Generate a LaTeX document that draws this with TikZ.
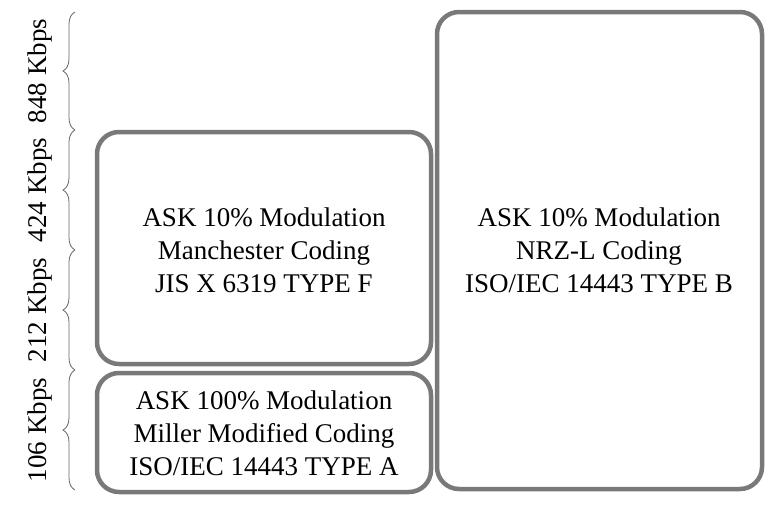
\documentclass[tikz,border=0pt]{standalone}
\usepackage{fontspec}
\setmainfont{Liberation Serif}
\usetikzlibrary{decorations.pathreplacing}
\begin{document}
\begin{tikzpicture}[x=1pt,y=-1pt,
  box/.style={draw=gray!95!black,line width=4.5pt,rounded corners=22pt,align=center,font=\fontsize{27}{33}\selectfont},
  br/.style={draw=gray!80!black,line width=0.8pt,decorate,decoration={brace,amplitude=12pt}},
  lab/.style={rotate=90,font=\fontsize{27}{33}\selectfont}]
\useasboundingbox (0,0) rectangle (773,509);
\foreach \i/\a/\b/\t in {1/12/130/848,2/130/250/424,3/250/370/212,4/370/490/106}{
  \coordinate (t\i) at (75,\a); \coordinate (b\i) at (75,\b);
  \draw[br] (b\i) -- (t\i);
  \node[lab] (l\i) at (40,{(\a+\b)/2}) {\t\ Kbps};
}
\draw[box] (97,132) rectangle (431,364);
\node[align=center,font=\fontsize{27}{33}\selectfont] (f) at (264,250) {ASK 10\% Modulation\\Manchester Coding\\JIS X 6319 TYPE F};
\draw[box] (97,373) rectangle (431,492);
\node[align=center,font=\fontsize{27}{33}\selectfont] (a) at (264,433) {ASK 100\% Modulation\\Miller Modified Coding\\ISO/IEC 14443 TYPE A};
\draw[box] (437,12) rectangle (762,489);
\node[align=center,font=\fontsize{27}{33}\selectfont] (b) at (599,250) {ASK 10\% Modulation\\NRZ-L Coding\\ISO/IEC 14443 TYPE B};
\end{tikzpicture}
\end{document}
